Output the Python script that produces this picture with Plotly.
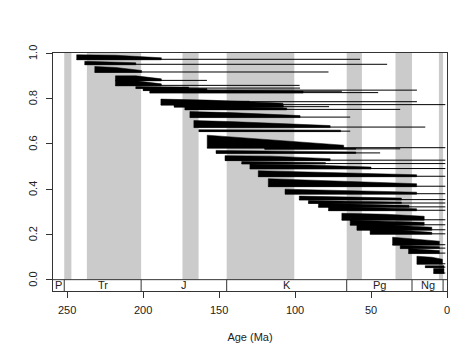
import plotly.graph_objects as go

# ---- data -------------------------------------------------------------
# rank position of each taxon (0-1), first appearance, two intermediate
# ages, last appearance (Ma) and relative richness at those ages
rank = [0.970, 0.948, 0.914, 0.877, 0.855, 0.843, 0.834, 0.829, 0.823,
        0.783, 0.770, 0.761, 0.749, 0.715, 0.671, 0.653, 0.580, 0.575,
        0.557, 0.525, 0.510, 0.488, 0.454, 0.410, 0.377, 0.351, 0.336,
        0.319, 0.304, 0.262, 0.240, 0.218, 0.200, 0.152, 0.137, 0.115,
        0.068, 0.053, 0.027]
first = [243.7, 238.4, 231.8, 218.2, 218.2, 204.8, 200.0, 190.0, 195.6,
         185.0, 188.3, 179.6, 172.5, 169.2, 166.6, 163.3, 157.8, 120.0,
         152.0, 146.1, 135.1, 129.7, 124.2, 117.6, 106.6, 97.2, 91.2,
         84.6, 78.0, 69.2, 63.7, 59.3, 50.6, 35.8, 30.8, 25.3,
         19.8, 14.3, 8.8]
age_a = [218.0, 218.0, 218.0, 204.8, 204.8, 188.0, 188.0, 170.0, 158.0,
         160.0, 158.0, 158.0, 140.0, 142.9, 142.9, 100.0, 106.6, 100.0,
         100.0, 116.0, 106.6, 90.0, 70.0, 65.9, 50.0, 66.0, 60.0,
         60.0, 50.0, 40.0, 40.0, 35.0, 30.0, 20.0, 15.0, 15.0,
         10.0, 5.0, 4.0]
age_b = [188.0, 204.8, 201.0, 188.0, 188.0, 170.0, 158.0, 150.0, 94.7,
         130.0, 108.0, 107.7, 105.5, 96.7, 76.9, 70.0, 68.0, 60.0,
         60.0, 76.9, 80.0, 50.0, 20.0, 20.0, 20.0, 30.0, 30.0,
         25.0, 20.0, 15.0, 15.0, 10.0, 10.0, 5.0, 5.0, 5.0,
         3.0, 2.0, 2.0]
last = [57.2, 39.4, 78.0, 158.0, 97.0, 96.7, 19.8, 69.2, 45.3,
        19.8, 1.1, 77.6, 30.8, 63.7, 14.3, 63.7, 1.1, 30.8,
        44.0, 1.1, 1.1, 1.1, 1.1, 1.1, 1.1, 1.1, 1.1,
        1.1, 1.1, 1.1, 1.1, 1.1, 1.1, 1.1, 1.1, 1.1,
        1.1, 1.1, 1.1]
rich_first = [5, 3.5, 6, 5, 5, 2, 3, 1.5, 3,
              1.5, 6, 4, 3, 6, 7, 2, 13, 1,
              3, 5, 2.5, 5, 6, 8, 5, 4, 3,
              4, 4, 7, 5, 6, 5, 8, 3, 5,
              8, 2, 5]
rich_a = [4.5, 2.5, 5, 5, 5, 2, 3, 1.5, 3,
          1.5, 5, 3, 3, 5, 6, 2, 7, 1,
          2.5, 4.5, 2, 4, 4, 5, 3, 3, 2.5,
          3, 3, 6, 4, 5, 4, 6, 2, 4,
          7, 2, 5]
rich_b = [2, 2, 2, 2, 2, 1.5, 2, 1, 2,
          1, 2, 2, 2, 2, 2, 1.5, 3, 1,
          1.5, 2, 1.5, 2, 2, 3, 2, 2, 1.5,
          2, 2, 4, 3, 3, 2, 4, 2, 3,
          5, 2, 5]

# alternating shaded epochs (Ma)
shade_old = [251.9, 237.0, 174.1, 145.0, 66.0, 33.9, 5.333]
shade_young = [247.2, 201.3, 163.5, 100.5, 56.0, 23.03, 2.58]

# geological periods
period_names = ["P", "Tr", "J", "K", "Pg", "Ng", ""]
period_old = [298.9, 251.9, 201.3, 145.0, 66.0, 23.03, 2.58]
period_young = [251.9, 201.3, 145.0, 66.0, 23.03, 2.58, 0.0]

x_ticks = [250, 200, 150, 100, 50, 0]
y_ticks = [0.0, 0.2, 0.4, 0.6, 0.8, 1.0]

XMAX = 259.3
YMIN = -0.05
UNIT = 1.0 / 226.0   # richness unit -> y data units

# ---- figure -----------------------------------------------------------
fig = go.Figure()

px_, py_ = [], []
lx, ly = [], []
for r, f, a, b, l, h0, h1, h2 in zip(rank, first, age_a, age_b, last,
                                     rich_first, rich_a, rich_b):
    px_ += [f, a, b, b, f, f, None]
    py_ += [r + h0 * UNIT, r + h1 * UNIT, r + h2 * UNIT, r, r,
            r + h0 * UNIT, None]
    lx += [f, l, None]
    ly += [r + 0.5 * UNIT, r + 0.5 * UNIT, None]

fig.add_trace(go.Scatter(x=px_, y=py_, mode="lines", fill="toself",
                         fillcolor="black", line=dict(color="black", width=0.5),
                         hoverinfo="skip", showlegend=False))
fig.add_trace(go.Scatter(x=lx, y=ly, mode="lines",
                         line=dict(color="black", width=1),
                         hoverinfo="skip", showlegend=False))

shapes = []
for o, y_ in zip(shade_old, shade_young):
    shapes.append(dict(type="rect", xref="x", yref="y", x0=min(o, XMAX), x1=y_,
                       y0=0, y1=1, fillcolor="#cbcbcb", line=dict(width=0),
                       layer="below"))

# timescale strip
shapes.append(dict(type="line", xref="x", yref="y", x0=XMAX, x1=0, y0=0, y1=0,
                   line=dict(color="#333333", width=1)))
annotations = []
for name, o, y_ in zip(period_names, period_old, period_young):
    if y_ > 0:
        shapes.append(dict(type="line", xref="x", yref="y", x0=y_, x1=y_,
                           y0=YMIN, y1=0, line=dict(color="#333333", width=1)))
    if name:
        xc = (min(o, XMAX) + y_) / 2.0
        annotations.append(dict(x=xc, y=YMIN / 2.0, xref="x", yref="y",
                                text=name, showarrow=False,
                                font=dict(size=11, color="#222222")))

# rotated y tick labels (R style)
for t in y_ticks:
    annotations.append(dict(x=0, y=t, xref="paper", yref="y",
                            text="%.1f" % t, showarrow=False, textangle=-90,
                            xanchor="center", yanchor="middle", xshift=-20,
                            font=dict(size=11, color="#222222")))

fig.update_layout(
    width=466, height=349,
    margin=dict(l=45, r=27, t=45, b=66),
    paper_bgcolor="white", plot_bgcolor="white",
    font=dict(family="Liberation Sans, Arial, sans-serif", size=11, color="#222222"),
    shapes=shapes, annotations=annotations,
    showlegend=False,
)
fig.update_xaxes(range=[XMAX, 0], tickvals=x_ticks, ticks="outside", ticklen=6,
                 tickcolor="#333333", showline=True, linecolor="#333333",
                 linewidth=1, mirror=True, showgrid=False, zeroline=False,
                 ticklabelstandoff=3,
                 title=dict(text="Age (Ma)", standoff=18, font=dict(size=11)),
                 tickfont=dict(size=11))
fig.update_yaxes(range=[YMIN, 1.0], tickvals=y_ticks, showticklabels=False,
                 ticks="outside", ticklen=6, tickcolor="#333333",
                 showline=True, linecolor="#333333", linewidth=1, mirror=True,
                 showgrid=False, zeroline=False)

fig.write_html("out.html")
